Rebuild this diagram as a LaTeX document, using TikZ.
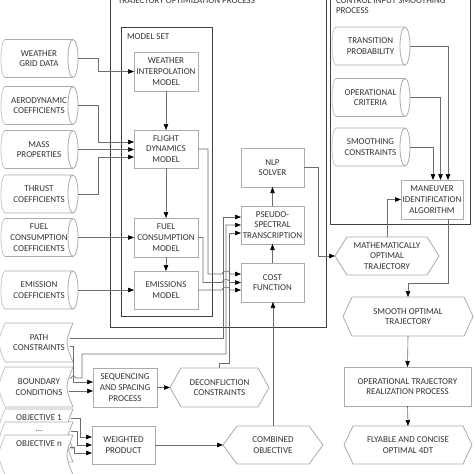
\documentclass[tikz,border=0pt]{standalone}
\usepackage{fontspec}
\setmainfont{Carlito}
\usetikzlibrary{arrows.meta,calc}
\definecolor{txtc}{HTML}{333333}
\definecolor{boxc}{HTML}{ABABAB}
\definecolor{boxlight}{HTML}{C8C8C8}
\definecolor{connc}{HTML}{6E6E6E}
\definecolor{framec}{HTML}{404040}
\tikzset{
  txt/.style={font=\fontsize{9}{10.7}\selectfont, text=txtc, align=center, inner sep=0pt, outer sep=0pt},
  proc/.style={txt, draw=boxc, line width=0.8pt, fill=white},
  cylbox/.style={txt, minimum height=38pt},
  cylline/.style={draw=boxc, line width=0.8pt},
  backline/.style={draw=boxlight, line width=0.8pt},
  hexline/.style={draw=boxc, line width=0.8pt},
  conn/.style={draw=connc, line width=0.6pt},
  arr/.style={conn, -{Triangle[length=6pt,width=4.5pt,color=black]}},
  frame/.style={draw=framec, line width=0.9pt},
}
% cylinder: name, xc, yc, width (body), text
\newcommand\mycyl[5]{%
  \node[cylbox, minimum width=#4pt] (#1) at (#2,#3) {#5};
  \draw[cylline] (#1.north west) -- (#1.north east) (#1.south west) -- (#1.south east)
     (#1.east) ellipse [x radius=5pt, y radius=19pt];
  \draw[backline] (#1.north west) arc[start angle=90, end angle=270, x radius=4pt, y radius=19pt];
}
% hexagon: name, xc, yc, w, h, slant, text
\newcommand\myhex[7]{%
  \node[txt, minimum width=#4pt, minimum height=#5pt] (#1) at (#2,#3) {#7};
  \draw[hexline] (#1.west) -- ([xshift=#6pt]#1.north west) -- ([xshift=-#6pt]#1.north east)
     -- (#1.east) -- ([xshift=-#6pt]#1.south east) -- ([xshift=#6pt]#1.south west) -- cycle;
}
% stored data: name, xc, yc, w, h, text y, text
\newcommand\mysd[7]{%
  \node[txt, minimum width=#4pt, minimum height=#5pt] (#1) at (#2,#3) {};
  \fill[white] (#1.north west) -- (#1.north east) .. controls ([xshift=-8pt]#1.east) .. (#1.south east)
     -- (#1.south west) .. controls ([xshift=-8pt]#1.west) .. (#1.north west) -- cycle;
  \draw[cylline] (#1.south west) -- (#1.south east) .. controls ([xshift=-8pt]#1.east) .. (#1.north east)
     -- (#1.north west);
  \draw[backline] (#1.south west) .. controls ([xshift=-8pt]#1.west) .. (#1.north west);
  \node[txt] (#1t) at (#2,#6) {#7};
}
\begin{document}
\begin{tikzpicture}[x=1pt,y=-1pt]
\fill[white] (0,0) rectangle (474,474);
\clip (0,0) rectangle (474,474);
\useasboundingbox (0,0) rectangle (474,474);

% frames
\draw[frame] (110,-10) rectangle (326,327);
\draw[frame] (330,-10) rectangle (470,224);
\draw[frame] (121,27) rectangle (212,316);
\node[txt, anchor=base west] (tt) at (118,3) {TRAJECTORY OPTIMIZATION PROCESS};
\node[txt, anchor=base west] (ct1) at (336,3) {CONTROL INPUT SMOOTHING};
\node[txt, anchor=base west] (ct2) at (336,13.7) {PROCESS};
\node[txt, anchor=base west] (mst) at (127,39.5) {MODEL SET};

% left data cylinders
\mycyl{wgd}{39}{58.5}{68}{WEATHER\\GRID DATA}
\mycyl{aero}{39}{105.5}{68}{AERODYNAMIC\\COEFFICIENTS}
\mycyl{mass}{39}{149.5}{68}{MASS\\PROPERTIES}
\mycyl{thr}{39}{194}{68}{THRUST\\COEFFICIENTS}
\mycyl{fcc}{39}{237.5}{68}{FUEL\\CONSUMPTION\\COEFFICIENTS}
\mycyl{ec}{39}{290}{68}{EMISSION\\COEFFICIENTS}
% control cylinders
\mycyl{tp}{370.5}{46}{69}{TRANSITION\\PROBABILITY}
\mycyl{oc}{370.5}{97.5}{69}{OPERATIONAL\\CRITERIA}
\mycyl{sc}{370.5}{147}{69}{SMOOTHING\\CONSTRAINTS}

% stored data shapes
\mysd{pc}{39}{342.5}{68}{39}{342.5}{PATH\\CONSTRAINTS}
\mysd{bc}{39}{387}{68}{40}{387}{BOUNDARY\\CONDITIONS}
\mysd{obj1}{39}{429}{68}{40}{418}{OBJECTIVE 1}
\mysd{objd}{39}{442}{68}{40}{431}{...}
\mysd{objn}{39}{455}{68}{40}{444}{OBJECTIVE n}

% process boxes
\node[proc, minimum width=64pt, minimum height=39pt] (wim) at (166,71.5) {WEATHER\\INTERPOLATION\\MODEL};
\node[proc, minimum width=64pt, minimum height=38pt] (fdm) at (166,149) {FLIGHT\\DYNAMICS\\MODEL};
\node[proc, minimum width=64pt, minimum height=39pt] (fcm) at (166,237.5) {FUEL\\CONSUMPTION\\MODEL};
\node[proc, minimum width=64pt, minimum height=38pt] (em) at (166,290) {EMISSIONS\\MODEL};
\node[proc, minimum width=63pt, minimum height=39pt] (nlp) at (272.5,167.5) {NLP\\SOLVER};
\node[proc, minimum width=63pt, minimum height=38pt] (pst) at (272.5,225) {PSEUDO-\\SPECTRAL\\TRANSCRIPTION};
\node[proc, minimum width=63pt, minimum height=39pt] (cost) at (272.5,282.5) {COST\\FUNCTION};
\node[proc, minimum width=62pt, minimum height=39pt] (mia) at (432,199.5) {MANEUVER\\IDENTIFICATION\\ALGORITHM};
\node[proc, minimum width=64pt, minimum height=39pt] (seq) at (125,387.5) {SEQUENCING\\AND SPACING\\PROCESS};
\node[proc, minimum width=63pt, minimum height=38pt] (wp) at (123.5,445) {WEIGHTED\\PRODUCT};
\node[proc, minimum width=127pt, minimum height=39pt] (otrp) at (407.5,386.5) {OPERATIONAL TRAJECTORY\\REALIZATION PROCESS};

% hexagons
\myhex{dec}{219.5}{387.5}{99}{39}{11}{DECONFLICTION\\CONSTRAINTS}
\myhex{co}{273}{445}{100}{38}{14}{COMBINED\\OBJECTIVE}
\myhex{mot}{387}{256}{104}{38}{12}{MATHEMATICALLY\\OPTIMAL\\TRAJECTORY}
\myhex{sot}{408}{316.5}{130}{39}{9}{SMOOTH OPTIMAL\\TRAJECTORY}
\myhex{fly}{408}{445}{128}{38}{9}{FLYABLE AND CONCISE\\OPTIMAL 4DT}

% inputs to model set
\draw[arr] ([xshift=5pt]wgd.east) -- ++(20,0) |- (wim.west);
\draw[arr] ([xshift=5pt]aero.east) -- ++(20,0) |- ($(fdm.west)+(0,-7)$);
\draw[arr] ([xshift=5pt]mass.east) -- (mass.east -| fdm.west);
\draw[arr] ([xshift=5pt]thr.east) -- ++(20,0) |- ($(fdm.west)+(0,8)$);
\draw[arr] ([xshift=5pt]fcc.east) -- (fcm.west);
\draw[arr] ([xshift=5pt]ec.east) -- (em.west);
% model chain
\draw[arr] (wim.south) -- (fdm.north);
\draw[arr] (fdm.south) -- (fcm.north);
\draw[arr] (fcm.south) -- (em.north);
% models to cost function (with hops)
\draw[arr] (fdm.east) -- ++(10,0) |- (222,274) .. controls (222,270) and (230,270) .. (230,274) -- ($(cost.west)+(0,-8.5)$);
\draw[arr] (fcm.east) -- ++(5,0) |- (222,282.5) .. controls (222,278.5) and (230,278.5) .. (230,282.5) -- (cost.west);
\draw[arr] (em.east) -- (222,290) .. controls (222,286) and (230,286) .. (230,290) -- ($(cost.west)+(0,7.5)$);
% constraints to pseudo-spectral transcription
\draw[arr] ($(pc.east)+(-3.5,-4.5)$) -| ($(pst.west)+(-18,-8)$) -- ($(pst.west)+(0,-8)$);
\draw[arr] ($(bc.east)+(-3.5,-9)$) -- (71.5,378) .. controls (71.5,375) and (75.5,375) .. (75.5,378) -- (82,378) -- (82,354) -| ($(pst.west)+(-15,0)$) -- (pst.west);
\draw[arr] (dec.north) -- ++(0,-5) -| ($(pst.west)+(-12,8)$) -- ($(pst.west)+(0,8)$);
% to sequencing
\draw[arr] ($(pc.east)+(-3.5,3.5)$) -- ++(4,0) |- ($(seq.west)+(0,-5.5)$);
\draw[arr] ($(bc.east)+(-4,4)$) -- ($(seq.west)+(0,3.5)$);
\draw[arr] (seq.east) -- (dec.west);
% objectives
\draw[arr] ($(obj1.east)+(-2.5,-11)$) -- (80,418) |- ($(wp.west)+(0,-8)$);
\draw[arr] ($(objd.east)+(-2.5,-11)$) -- (77,431) |- (wp.west);
\draw[arr] ($(objn.east)+(-3,-8)$) -- (74,447) |- ($(wp.west)+(0,8)$);
\draw[arr] (wp.east) -- (co.west);
\draw[arr] (co.north) -- (co.north |- cost.south);
% optimisation chain
\draw[arr] (cost.north) -- (pst.south);
\draw[arr] (pst.north) -- (nlp.south);
\draw[arr] (nlp.east) -- ++(14,0) |- (mot.west);
% smoothing
\draw[arr] (mot.north) |- (mia.west);
\draw[arr] ([xshift=5pt]tp.east) -| ($(mia.north)+(16,0)$);
\draw[arr] ([xshift=5pt]oc.east) -| ($(mia.north)+(8.5,0)$);
\draw[arr] ([xshift=5pt]sc.east) -| ($(mia.north)+(1,0)$);
\draw[arr] ($(mia.south)+(16,0)$) -- ++(0,64) -| (sot.north);
\draw[arr] (sot.south) -- (otrp.north);
\draw[arr] (otrp.south) -- (fly.north);
\end{tikzpicture}
\end{document}
